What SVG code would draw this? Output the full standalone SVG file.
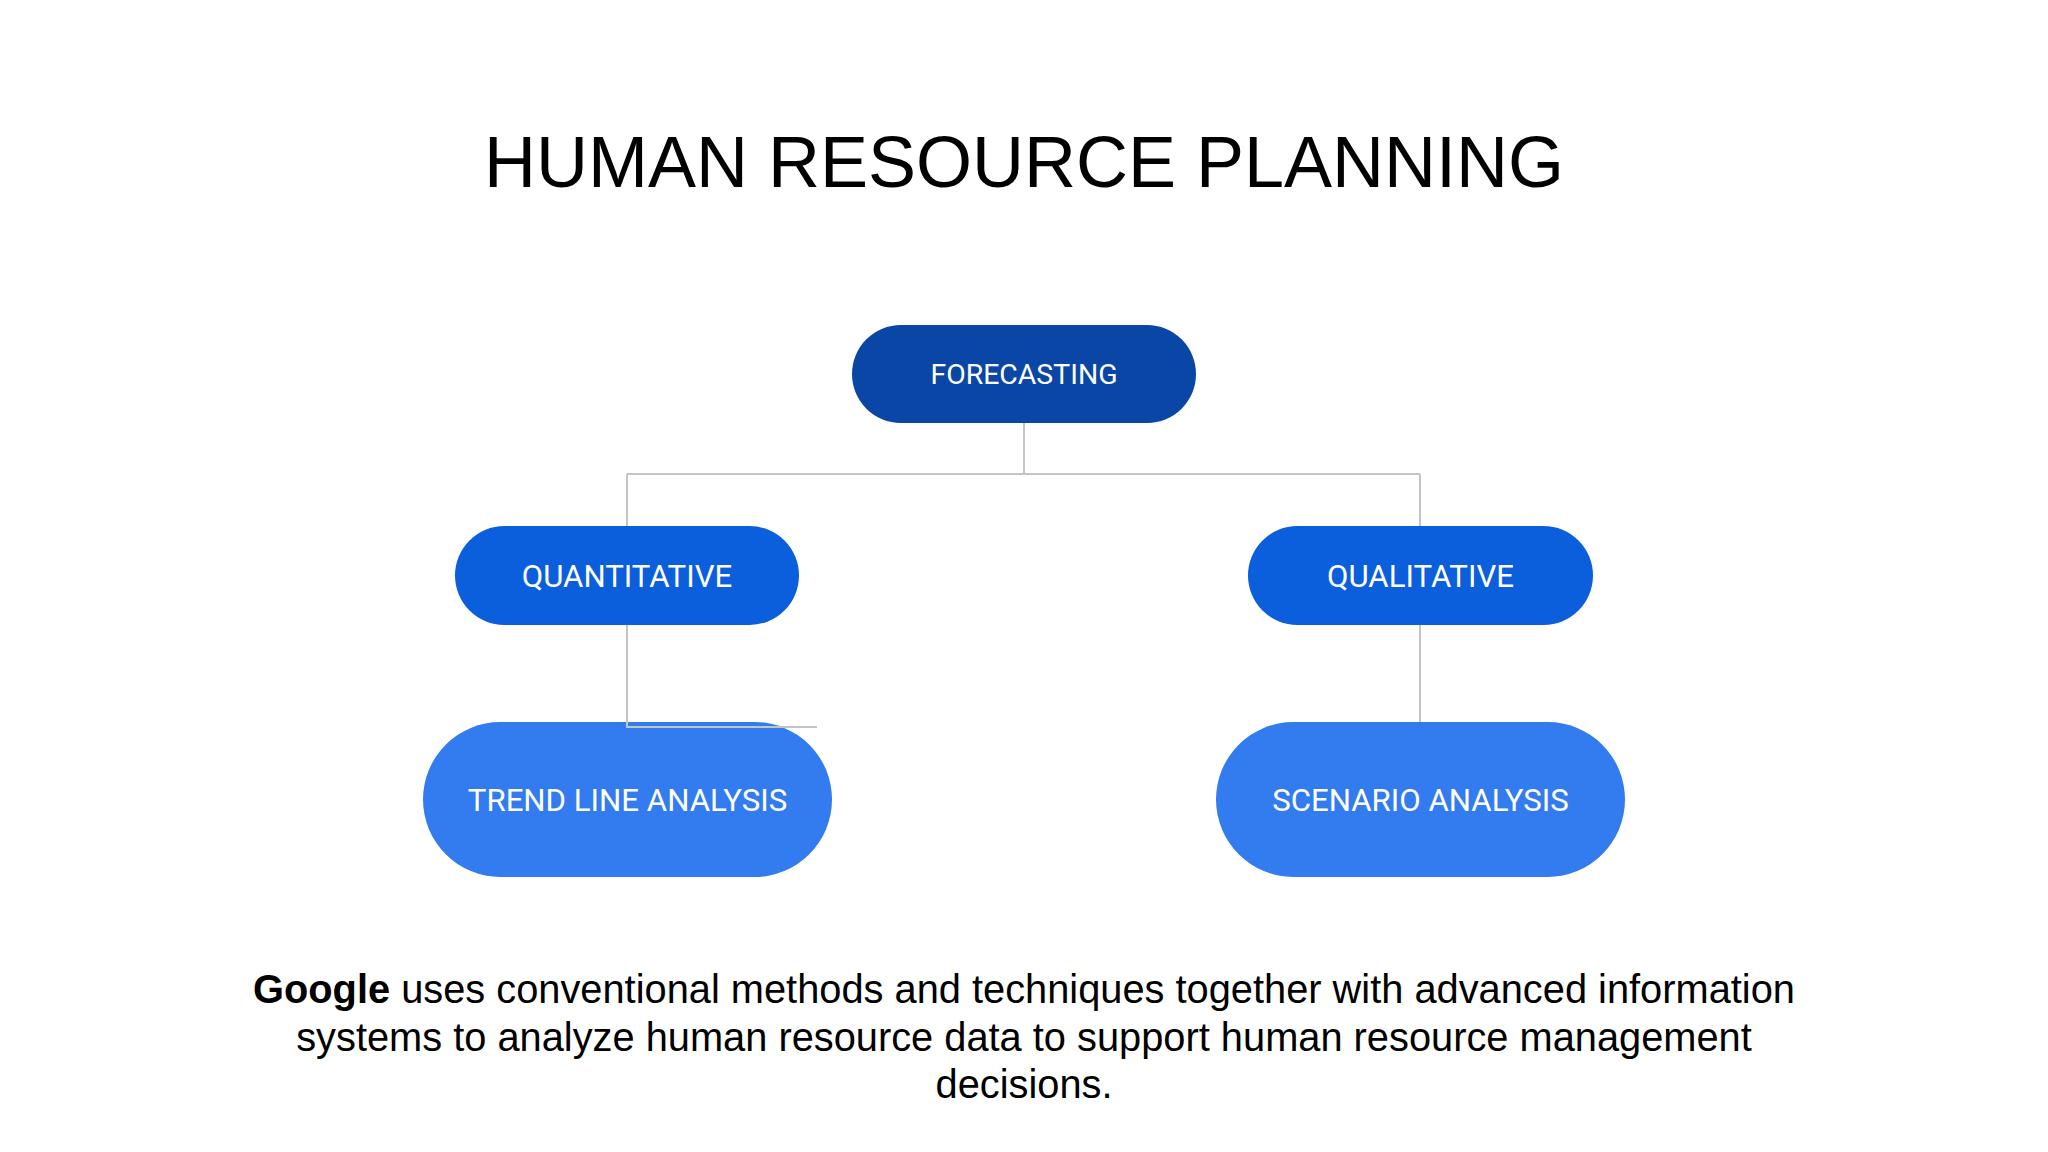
<svg xmlns="http://www.w3.org/2000/svg" width="2048" height="1152" viewBox="0 0 2048 1152">
<style>
.title{font-family:"Liberation Sans",Arial,sans-serif;font-size:72px;fill:#000}
.body{font-family:"Liberation Sans",Arial,sans-serif;font-size:39.8px;fill:#000}
.lbl{font-family:Roboto,"Noto Sans",sans-serif;fill:#fff;text-anchor:middle}
.l1{fill:#0A46A5}
.l2{fill:#0B5EDC}
.l3{fill:#337CEF}
.conn{fill:none;stroke:#C4C4C4;stroke-width:2}
</style>
<rect width="2048" height="1152" fill="#fff"/>
<text class="title" x="1024" y="187" text-anchor="middle">HUMAN RESOURCE PLANNING</text>
<g id="node-forecasting">
<rect class="l1" x="852" y="325" width="344" height="98" rx="49"/>
<text class="lbl" x="1024" y="384" font-size="28.4">FORECASTING</text>
</g>
<g id="node-quantitative">
<rect class="l2" x="455" y="526" width="344" height="99" rx="49.5"/>
<text class="lbl" x="627" y="587" font-size="31.2">QUANTITATIVE</text>
</g>
<g id="node-qualitative">
<rect class="l2" x="1248" y="526" width="345" height="99" rx="49.5"/>
<text class="lbl" x="1420.5" y="587" font-size="31.2">QUALITATIVE</text>
</g>
<g id="node-trend">
<rect class="l3" x="423" y="722" width="409" height="155" rx="77.5"/>
<text class="lbl" x="627.5" y="811" font-size="31.2">TREND LINE ANALYSIS</text>
</g>
<g id="node-scenario">
<rect class="l3" x="1216" y="722" width="409" height="155" rx="77.5"/>
<text class="lbl" x="1420.5" y="811" font-size="31.2">SCENARIO ANALYSIS</text>
</g>
<g id="connectors">
<path class="conn" d="M1024 423 V474 M627 474 H1420 M627 474 V526 M1420 474 V526"/>
<path class="conn" d="M1420 625 V722"/>
<path class="conn" d="M627 625 V727 H817"/>
</g>
<text class="body" text-anchor="middle"><tspan x="1024" y="1003"><tspan font-weight="bold">Google</tspan> uses conventional methods and techniques together with advanced information</tspan><tspan x="1024" y="1051">systems to analyze human resource data to support human resource management</tspan><tspan x="1024" y="1098">decisions.</tspan></text>
</svg>
